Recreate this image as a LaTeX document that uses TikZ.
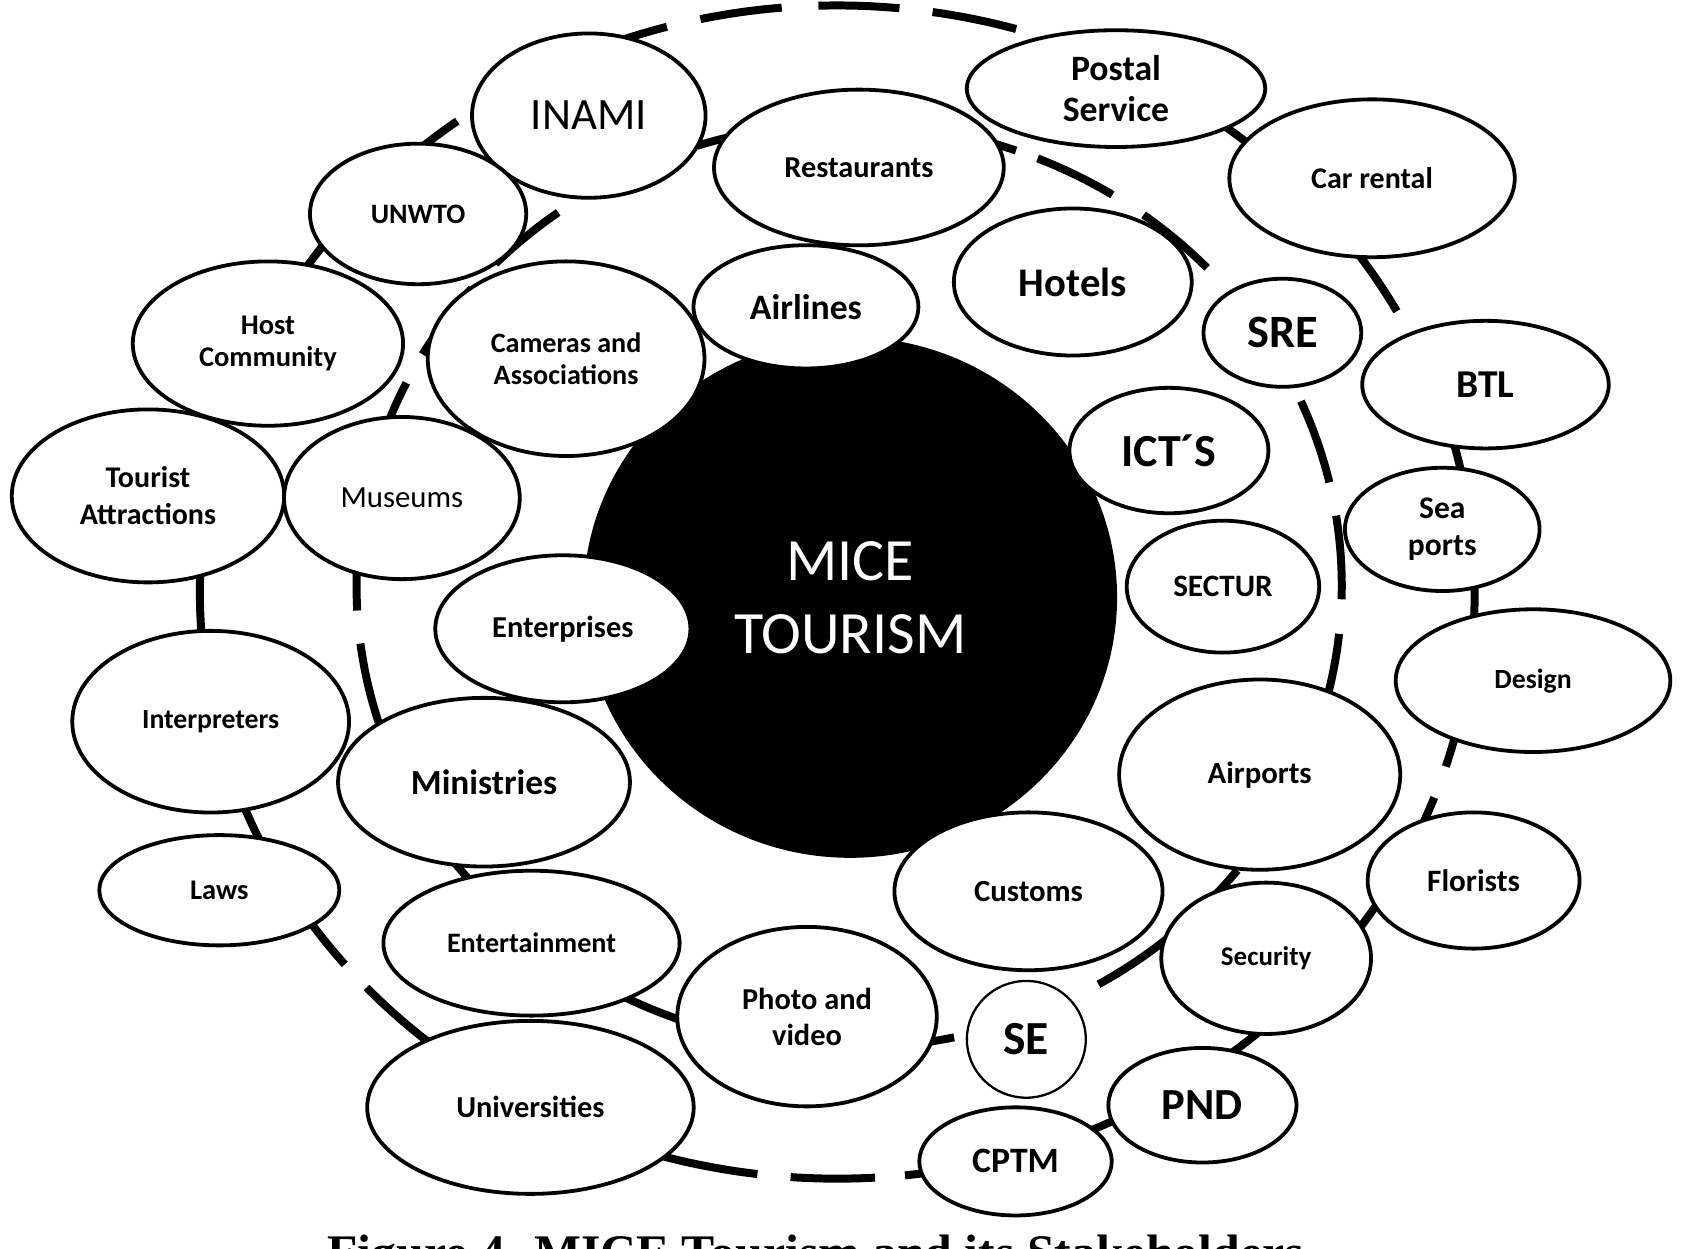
\documentclass[tikz,border=0pt]{standalone}
\usepackage{fontspec}
\setmainfont{Carlito}
\newfontfamily\capfont{Liberation Serif}
\usetikzlibrary{shapes.geometric}
\tikzset{
  stk/.style 2 args={ellipse, draw=black, fill=white, line width=1pt,
    inner sep=0pt, outer sep=0pt, minimum width=#1*0.02cm,
    minimum height=#2*0.02cm, align=center},
  lab/.style 2 args={font=\bfseries\fontsize{#1pt}{#2pt}\selectfont},
  labr/.style 2 args={font=\mdseries\fontsize{#1pt}{#2pt}\selectfont},
  ringline/.style={line width=2.1pt, line cap=butt},
}
\newcommand\ringO[2]{\draw[ringline] (775,548) ++(#1:590 and 543) arc[start angle=#1, end angle=#2, x radius=590, y radius=543];}
\newcommand\ringI[2]{\draw[ringline] (786,542) ++(#1:456 and 428) arc[start angle=#1, end angle=#2, x radius=456, y radius=428];}
\begin{document}
\begin{tikzpicture}[x=0.01cm, y=-0.01cm]
\useasboundingbox (0,0) rectangle (1568,1156);
\fill[white] (0,0) rectangle (1568,1156);
\begin{scope}
\clip (0,0) rectangle (1568,1156);
% outer dashed ring
\ringO{224}{233.4}
\ringO{240}{254.5}
\ringO{257.6}{265}
\ringO{268.3}{275.6}
\ringO{278.6}{286.3}
\ringO{302}{311}
\ringO{320}{331.4}
\ringO{340}{350}
\ringO{-4}{6}
\ringO{8}{17.3}
\ringO{20.5}{30}
\ringO{31.5}{41.5}
\ringO{45}{55}
\ringO{60}{70}
\ringO{74}{83.9}
\ringO{86.6}{94.2}
\ringO{97.2}{110}
\ringO{124}{137.6}
\ringO{140.6}{162}
\ringO{172}{186}
\ringO{206}{217}
% inner dashed ring
\ringI{38}{59.6}
\ringI{6}{16}
\ringI{-8.7}{1.7}
\ringI{-23.5}{-12.9}
\ringI{-53.3}{-43.4}
\ringI{-67.5}{-57.7}
\ringI{-80}{-70.2}
\ringI{-108}{-98}
\ringI{224.1}{233.8}
\ringI{210}{220}
\ringI{196}{206}
\ringI{176.9}{187}
\ringI{162.8}{172.8}
\ringI{136}{146}
\ringI{106}{120.3}
\ringI{77.7}{88}
% centre
\node[ellipse, fill=black, inner sep=0pt, minimum width=494*0.01cm, minimum height=482*0.01cm,
      text=white, align=center, labr={15.8}{19.3}] (mice) at (787,553) {MICE\\TOURISM};
% stakeholders
\node[stk={108}{76}, labr={11.8}{14}] (inami) at (545,107) {INAMI};
\node[stk={134}{72}, lab={8}{9.6}] (restaurants) at (795,155) {Restaurants};
\node[stk={138}{54}, lab={9.4}{10.8}] (postal) at (1033,82) {Postal\\Service};
\node[stk={132}{73}, lab={7.9}{9.5}] (carrental) at (1270,165) {Car rental};
\node[stk={100}{65}, lab={7.4}{8.9}] (unwto) at (387,198) {UNWTO};
\node[stk={110}{68}, lab={10.7}{12.8}] (hotels) at (993,261) {Hotels};
\node[stk={104}{57}, lab={9.4}{11.3}] (airlines) at (746,284) {Airlines};
\node[stk={73}{50}, lab={12.2}{14.6}] (sre) at (1187,308) {SRE};
\node[stk={125}{76}, lab={7.5}{8.5}] (host) at (248,318) {Host\\Community};
\node[stk={128}{90}, lab={7.4}{8.5}] (cameras) at (524,332) {Cameras and\\Associations};
\node[stk={114}{59}, lab={10.4}{12.5}] (btl) at (1375,356) {BTL};
\node[stk={92}{58}, lab={12.1}{14.5}] (icts) at (1082,417) {ICT´S};
\node[stk={126}{80}, lab={7.9}{9.7}] (tourist) at (137,459) {Tourist\\Attractions};
\node[stk={109}{75}, labr={8.1}{9.7}] (museums) at (372,461) {Museums};
\node[stk={90}{57}, lab={8.3}{9.7}] (seaports) at (1335,490) {Sea\\ports};
\node[stk={89}{61}, lab={8.2}{9.8}] (sectur) at (1132,543) {SECTUR};
\node[stk={118}{68}, lab={8}{9.6}] (enterprises) at (521,582) {Enterprises};
\node[stk={127}{66}, lab={7.3}{8.8}] (design) at (1419,630) {Design};
\node[stk={128}{84}, lab={7.3}{8.8}] (interpreters) at (195,668) {Interpreters};
\node[stk={135}{78}, lab={9.3}{11.2}] (ministries) at (448,724) {Ministries};
\node[stk={130}{88}, lab={8.1}{9.7}] (airports) at (1166,717) {Airports};
\node[stk={98}{63}, lab={8.2}{9.8}] (florists) at (1364,815) {Florists};
\node[stk={111}{51}, lab={7.5}{9}] (laws) at (203,824) {Laws};
\node[stk={124}{73}, lab={8.1}{9.7}] (customs) at (952,825) {Customs};
\node[stk={137}{67}, lab={7.4}{8.9}] (entertainment) at (492,873) {Entertainment};
\node[stk={97}{70}, lab={7.1}{8.5}] (security) at (1172,887) {Security};
\node[stk={120}{83}, lab={8}{9.4}] (photo) at (747,941) {Photo and\\video};
\node[stk={55}{54}, lab={12.5}{15}, line width=0.6pt] (se) at (950,962) {SE};
\node[stk={87}{53}, lab={11.7}{14}] (pnd) at (1113,1023) {PND};
\node[stk={151}{80}, lab={8}{9.6}] (universities) at (491,1025) {Universities};
\node[stk={89}{50}, lab={9.4}{11.3}] (cptm) at (940,1075) {CPTM};
% caption (cut by the lower edge, as in the reference)
\node[anchor=base, inner sep=0pt, font=\capfont\bfseries\fontsize{13.1pt}{15pt}\selectfont] (caption) at (755,1175) {Figure 4. MICE Tourism and its Stakeholders};
\end{scope}
\end{tikzpicture}
\end{document}
